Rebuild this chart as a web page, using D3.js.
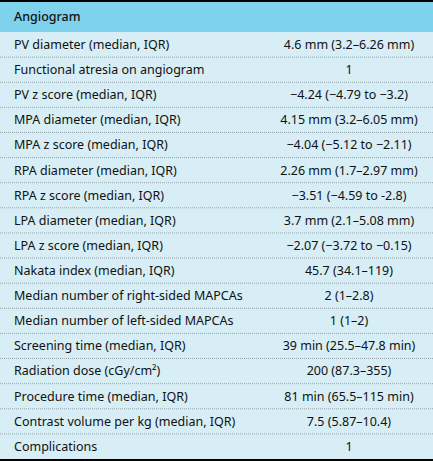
<!DOCTYPE html>
<html lang="en">
<head>
<meta charset="UTF-8">
<script src="https://d3js.org/d3.v7.min.js"></script>
<style>
  body { margin: 0; background: #fff; font-family: "Noto Sans", sans-serif; }
</style>
</head>
<body>
<div id="chart"></div>
<script>
const header = "Angiogram";
const labels = [
  "PV diameter (median, IQR)",
  "Functional atresia on angiogram",
  "PV z score (median, IQR)",
  "MPA diameter (median, IQR)",
  "MPA z score (median, IQR)",
  "RPA diameter (median, IQR)",
  "RPA z score (median, IQR)",
  "LPA diameter (median, IQR)",
  "LPA z score (median, IQR)",
  "Nakata index (median, IQR)",
  "Median number of right-sided MAPCAs",
  "Median number of left-sided MAPCAs",
  "Screening time (median, IQR)",
  "Radiation dose (cGy/cm²)",
  "Procedure time (median, IQR)",
  "Contrast volume per kg (median, IQR)",
  "Complications"
];
const values = [
  "4.6 mm (3.2–6.26 mm)",
  "1",
  "−4.24 (−4.79 to −3.2)",
  "4.15 mm (3.2–6.05 mm)",
  "−4.04 (−5.12 to −2.11)",
  "2.26 mm (1.7–2.97 mm)",
  "−3.51 (−4.59 to -2.8)",
  "3.7 mm (2.1–5.08 mm)",
  "−2.07 (−3.72 to −0.15)",
  "45.7 (34.1–119)",
  "2 (1–2.8)",
  "1 (1–2)",
  "39 min (25.5–47.8 min)",
  "200 (87.3–355)",
  "81 min (65.5–115 min)",
  "7.5 (5.87–10.4)",
  "1"
];

const W = 433, H = 461, headH = 30, topGap = 2;
const y = d3.scaleBand().domain(d3.range(labels.length))
  .range([topGap + headH, H - 2]).padding(0);

const svg = d3.select("#chart").append("svg").attr("width", W).attr("height", H);

svg.append("rect").attr("x", 0).attr("y", 0).attr("width", W).attr("height", H).attr("fill", "#d7eef6");
svg.append("rect").attr("x", 0).attr("y", topGap).attr("width", W).attr("height", headH).attr("fill", "#7ed2ec");
svg.append("text").attr("x", 14).attr("y", topGap + headH / 2).attr("dy", "0.35em")
  .attr("font-size", 12.5).attr("font-weight", 500).attr("fill", "#111").text(header);

const rows = svg.selectAll("g.row").data(labels).join("g")
  .attr("transform", (d, i) => `translate(0,${y(i)})`);

rows.filter((d, i) => i > 0).append("line")
  .attr("x1", 0).attr("x2", W).attr("y1", 0).attr("y2", 0)
  .attr("stroke", "#8a9499").attr("stroke-width", 0.8).attr("stroke-dasharray", "1,1");

rows.append("text").attr("x", 14).attr("y", y.bandwidth() / 2).attr("dy", "0.35em")
  .attr("font-size", 12.5).attr("fill", "#111").text(d => d);

rows.append("text").attr("x", 349).attr("y", y.bandwidth() / 2).attr("dy", "0.35em")
  .attr("text-anchor", "middle").attr("font-size", 12.5).attr("fill", "#111")
  .text((d, i) => values[i]);

svg.append("rect").attr("x", 0).attr("y", 0).attr("width", W).attr("height", topGap).attr("fill", "#000");
svg.append("rect").attr("x", 0).attr("y", H - 2).attr("width", W).attr("height", 2).attr("fill", "#000");
</script>
</body>
</html>
